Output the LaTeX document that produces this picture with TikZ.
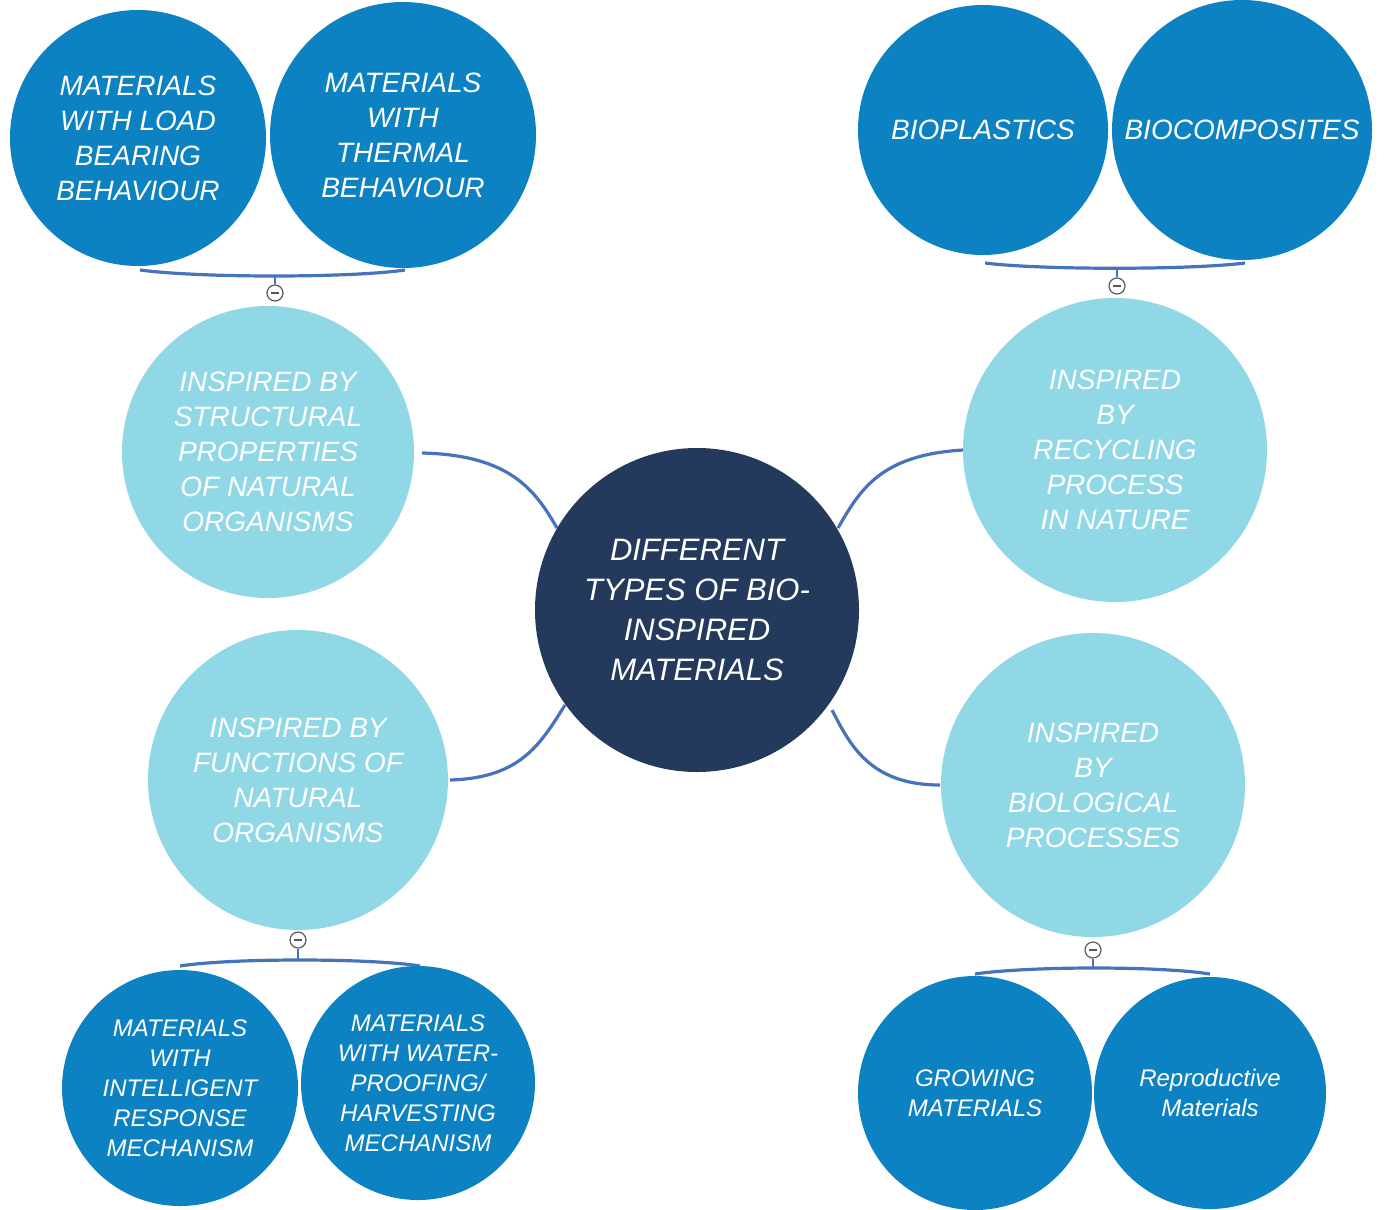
\documentclass[tikz,border=0pt]{standalone}
\usepackage{fontspec}
\setmainfont{Liberation Sans}
\begin{document}
\begin{tikzpicture}[x=0.5pt,y=-0.5pt,
 d/.style={minimum size=#1*0.5pt},
 dk/.style={circle,fill=dkc,text=white,inner sep=0pt,align=center,font=\itshape\fontsize{14}{17.5}\selectfont},
 lt/.style={circle,fill=ltc,text=white,inner sep=0pt,align=center,font=\itshape\fontsize{14}{17.5}\selectfont},
 ln/.style={draw=lnc,line width=1.6pt},
 mn/.style={circle,draw=gray!70!black,fill=white,inner sep=0pt,minimum size=8pt,line width=0.6pt,
   path picture={\draw[line width=0.8pt] ([xshift=-2pt]path picture bounding box.center)--([xshift=2pt]path picture bounding box.center);}}]
\definecolor{dkc}{HTML}{0C82C2}\definecolor{ltc}{HTML}{91D8E6}\definecolor{cc}{HTML}{233A5C}\definecolor{lnc}{HTML}{4773BC}
\useasboundingbox (0,0) rectangle (1384,1209);
% connectors first
\coordinate (e1) at (422,453);\coordinate (c1) at (557,528);
\coordinate (f1) at (963,450);\coordinate (c2) at (838,528);
\coordinate (g1) at (450,780);\coordinate (c3) at (565,705);
\coordinate (h1) at (940,785);\coordinate (c4) at (832,710);
\draw[ln] (e1) .. controls (510,455) and (535,490) .. (c1);
\draw[ln] (f1) .. controls (880,455) and (860,490) .. (c2);
\draw[ln] (g1) .. controls (520,778) and (540,745) .. (c3);
\draw[ln] (h1) .. controls (870,785) and (850,745) .. (c4);
\coordinate (b1l) at (140,270);\coordinate (b1r) at (405,270);\coordinate (b1m) at (275,276);
\draw[ln] (b1l) .. controls (200,278) and (350,278) .. (b1r);
\coordinate (b2l) at (985,263);\coordinate (b2r) at (1245,263);\coordinate (b2m) at (1117,269);
\draw[ln] (b2l) .. controls (1040,270) and (1190,270) .. (b2r);
\coordinate (b3l) at (180,966);\coordinate (b3r) at (420,966);\coordinate (b3m) at (298,959);
\draw[ln] (b3l) .. controls (230,958) and (370,958) .. (b3r);
\coordinate (b4l) at (975,974);\coordinate (b4r) at (1210,974);\coordinate (b4m) at (1093,967);
\draw[ln] (b4l) .. controls (1030,966) and (1160,966) .. (b4r);
\node[mn] (m1) at (275,293) {};\node[mn] (m2) at (1117,286) {};
\node[mn] (m3) at (298,940) {};\node[mn] (m4) at (1093,950) {};
\draw[ln,line width=1pt] (b1m)--(m1) (b2m)--(m2) (b3m)--(m3) (b4m)--(m4);
% nodes
\node[dk,d=256] (A) at (138,138) {MATERIALS\\WITH LOAD\\BEARING\\BEHAVIOUR};
\node[dk,d=266] (B) at (403,135) {MATERIALS\\WITH\\THERMAL\\BEHAVIOUR};
\node[dk,d=250] (C) at (983,130) {BIOPLASTICS};
\node[dk,d=260] (D) at (1242,130) {BIOCOMPOSITES};
\node[lt,d=292] (E) at (268,452) {INSPIRED BY\\STRUCTURAL\\PROPERTIES\\OF NATURAL\\ORGANISMS};
\node[lt,d=304] (F) at (1115,450) {INSPIRED\\BY\\RECYCLING\\PROCESS\\IN NATURE};
\node[lt,d=300] (G) at (298,780) {INSPIRED BY\\FUNCTIONS OF\\NATURAL\\ORGANISMS};
\node[lt,d=304] (H) at (1093,785) {INSPIRED\\BY\\BIOLOGICAL\\PROCESSES};
\node[circle,fill=cc,text=white,inner sep=0pt,d=324,align=center,font=\itshape\fontsize{15.5}{20}\selectfont] (M) at (697,610) {DIFFERENT\\TYPES OF BIO-\\INSPIRED\\MATERIALS};
\node[dk,d=236,font=\itshape\fontsize{12}{15}\selectfont] (I) at (180,1088) {MATERIALS\\WITH\\INTELLIGENT\\RESPONSE\\MECHANISM};
\node[dk,d=234,font=\itshape\fontsize{12}{15}\selectfont] (J) at (418,1083) {MATERIALS\\WITH WATER-\\PROOFING/\\HARVESTING\\MECHANISM};
\node[dk,d=234,font=\itshape\fontsize{12}{15}\selectfont] (K) at (975,1093) {GROWING\\MATERIALS};
\node[dk,d=232,font=\itshape\fontsize{12}{15}\selectfont] (L) at (1210,1093) {Reproductive\\Materials};
\end{tikzpicture}
\end{document}
